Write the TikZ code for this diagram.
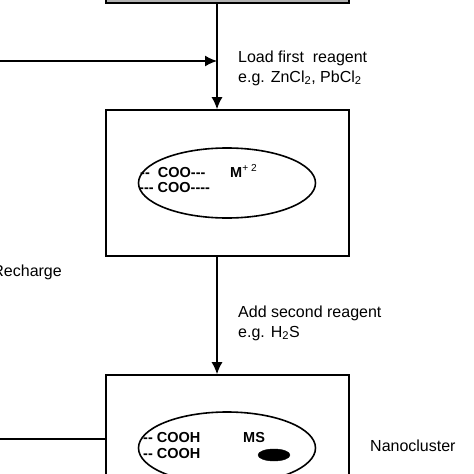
\documentclass[tikz,border=0pt]{standalone}
\usepackage{fontspec}
\setmainfont{Liberation Sans}
\newfontfamily\chemfont{Liberation Sans}[Ligatures=TeXOff]
\usetikzlibrary{positioning,shapes.geometric,arrows.meta}

\begin{document}
\begin{tikzpicture}[
x=1pt, y=-1pt,
stage/.style={
  draw,
  line width=1.6pt,
  minimum width=243pt,
  inner sep=0pt
  },
pocket/.style={
  draw,
  ellipse,
  line width=1.6pt,
  minimum width=177pt,
  minimum height=70pt,
  inner sep=0pt
  },
note/.style={
  font=\fontsize{16}{19.5}\selectfont,
  align=left,
  inner sep=0pt
  },
chem/.style={
  font=\chemfont\fontsize{14.5}{15}\selectfont\bfseries,
  inner sep=0pt
  },
flow/.style={
  ->,
  line width=1.4pt
  },
>={Latex[length=12pt,width=11pt]}
]
\useasboundingbox (0,0) rectangle (474,474);
\clip (0,0) rectangle (474,474);

% process stages
\node[stage, fill=black!30, minimum height=143pt] (wash) at (227.5,-68.5) {};
\node[stage, minimum height=146pt] (load) at (227.5,183) {};
\node[stage, minimum height=225pt] (nano) at (227.5,487.5) {};

% loaded pocket
\node[pocket] (pocket a) at (227,183) {};
\node[chem, anchor=base west] (coo a) at (140,177) {--\ \ COO---};
\node[chem, anchor=base west] (coo b) at (139,192) {---\ COO----};
\node[chem, anchor=base west] (metal) at (230,177) {M\textsuperscript{\mdseries+ 2}};

% pocket with cluster
\node[pocket, minimum height=72pt] (pocket b) at (227,448) {};
\node[chem, anchor=base west] (cooh a) at (143,442) {-- COOH};
\node[chem, anchor=base west] (cooh b) at (143,458) {-- COOH};
\node[chem, anchor=base west] (ms) at (243,442) {MS};
\node[draw, ellipse, fill, minimum width=32pt, minimum height=12pt, inner sep=0pt] (cluster) at (274,455) {};

% arrows
\coordinate (feed) at (217,61);
\coordinate (ret) at (-30,439);
\draw[flow] (wash.south -| feed) -- (load.north -| feed);
\draw[flow] (load.south -| feed) -- (nano.north -| feed);
\draw[flow] (ret -| nano.west) -- (ret) |- (feed);

% labels
\node[note, anchor=base west] (first) at (238,82) {Load first\ \ reagent\\e.g. ZnCl\textsubscript{2}, PbCl\textsubscript{2}};
\node[note, anchor=base west] (second) at (238,337) {Add second reagent\\e.g. H\textsubscript{2}S};
\node[note, anchor=base east] (recharge) at (62,276) {Recharge};
\node[note, anchor=base west] (product) at (370,451) {Nanocluster};
\end{tikzpicture}
\end{document}
